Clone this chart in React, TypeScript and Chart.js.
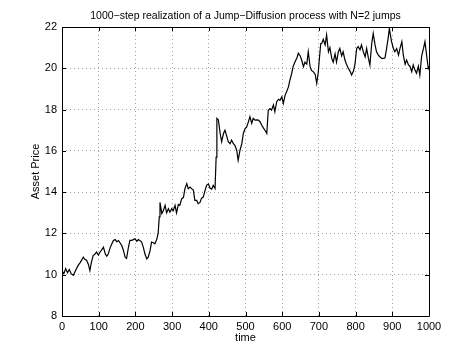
import React, { useEffect, useRef } from "react";
import { Chart, registerables } from "chart.js";

Chart.register(...registerables);

const TITLE = "1000\u2212step realization of a Jump\u2212Diffusion process with N=2 jumps";
const X_LABEL = "time";
const Y_LABEL = "Asset Price";
const X_TICKS = [0, 100, 200, 300, 400, 500, 600, 700, 800, 900, 1000];
const Y_TICKS = [8, 10, 12, 14, 16, 18, 20, 22];

const times = [
  0, 5, 10, 15, 20, 25, 31, 37, 44, 50, 58, 62, 67, 72, 76, 80, 85, 90, 94, 99,
  104, 108, 113, 118, 122, 126, 131, 136, 140, 145, 149, 154, 158, 163, 167, 172, 176, 181, 185, 190,
  194, 199, 204, 208, 213, 217, 222, 226, 231, 235, 240, 244, 249, 253, 258, 262, 265, 267, 272, 276,
  281, 285, 290, 294, 299, 303, 308, 312, 317, 321, 326, 331, 335, 340, 344, 349, 353, 358, 362, 367,
  371, 376, 380, 385, 390, 394, 399, 403, 408, 412, 417, 420, 422, 426, 431, 435, 440, 444, 449, 453,
  458, 462, 467, 471, 476, 480, 485, 490, 494, 499, 503, 508, 512, 517, 521, 526, 530, 535, 540, 544,
  549, 553, 558, 562, 567, 571, 576, 580, 585, 590, 594, 599, 603, 608, 612, 617, 621, 626, 630, 635,
  640, 644, 649, 653, 658, 662, 667, 671, 676, 680, 685, 690, 694, 698, 701, 705, 708, 712, 717, 721,
  726, 730, 735, 739, 744, 748, 753, 757, 762, 766, 771, 775, 780, 785, 789, 794, 798, 803, 807, 812,
  816, 821, 826, 830, 835, 839, 844, 848, 853, 857, 862, 866, 871, 875, 880, 884, 889, 892, 895, 898,
  903, 907, 912, 917, 921, 926, 930, 935, 939, 944, 948, 953, 957, 962, 966, 971, 975, 980, 985, 989,
  994, 998, 1000,
];

const prices = [
  10.2, 10.05, 10.3, 10.1, 10.25, 10.05, 9.97, 10.2, 10.45, 10.6, 10.85, 10.75, 10.7, 10.5, 10.2, 10.6, 10.93, 11.0, 11.1, 10.95,
  11.1, 11.2, 11.33, 11.0, 10.9, 11.0, 11.3, 11.5, 11.66, 11.7, 11.6, 11.65, 11.55, 11.4, 11.2, 10.85, 10.79, 11.33, 11.66, 11.66,
  11.7, 11.74, 11.62, 11.7, 11.65, 11.58, 11.3, 11.0, 10.77, 10.85, 11.17, 11.58, 11.55, 11.5, 11.7, 12.0, 12.8, 13.5, 12.96, 13.1,
  13.36, 13.0, 13.2, 13.03, 13.2, 13.1, 13.36, 13.0, 13.4, 13.36, 13.68, 13.75, 14.17, 14.41, 14.17, 14.25, 14.17, 14.1, 13.6, 13.6,
  13.44, 13.5, 13.7, 13.76, 14.1, 14.33, 14.4, 14.2, 14.15, 14.33, 14.17, 15.7, 17.57, 17.5, 16.84, 16.44, 16.84, 17.0, 16.7, 16.44,
  16.35, 16.52, 16.35, 16.27, 16.03, 15.54, 16.03, 16.35, 16.84, 17.08, 17.15, 17.41, 17.65, 17.33, 17.57, 17.49, 17.5, 17.49, 17.4, 17.25,
  17.1, 17.0, 16.84, 17.97, 18.05, 17.97, 18.22, 17.9, 18.38, 18.5, 18.45, 18.62, 18.3, 18.7, 18.86, 19.1, 19.43, 19.76, 20.1, 20.32,
  20.5, 20.73, 20.6, 20.4, 20.08, 20.3, 20.2, 20.8, 20.08, 19.9, 19.83, 19.7, 19.27, 19.76, 20.4, 21.2, 21.21, 21.4, 21.13, 21.61,
  20.8, 21.0, 20.48, 20.3, 20.7, 20.3, 20.8, 20.96, 20.6, 20.8, 20.4, 20.2, 20.0, 19.85, 19.67, 19.85, 20.16, 20.96, 21.05, 20.9,
  21.13, 20.8, 20.55, 20.96, 20.48, 20.16, 21.21, 21.69, 21.13, 20.8, 20.64, 20.56, 20.48, 20.48, 20.5, 20.9, 21.5, 21.94, 21.6, 21.29,
  20.96, 20.8, 20.96, 20.64, 20.96, 21.29, 20.64, 20.2, 20.4, 20.16, 20.1, 19.83, 20.16, 19.9, 19.76, 20.1, 19.67, 20.6, 20.96, 21.29,
  20.56, 20.0, 20.1,
];

const FONT = "'Liberation Sans', Arial, Helvetica, sans-serif";

const boxPlugin = {
  id: "matlabBox",
  afterDraw(chart: any) {
    const { ctx, chartArea } = chart;
    const { left, right, top, bottom } = chartArea;
    const xs = chart.scales.x;
    const ys = chart.scales.y;
    ctx.save();
    ctx.strokeStyle = "#000";
    ctx.lineWidth = 1;
    ctx.beginPath();
    ctx.rect(Math.round(left) + 0.5, Math.round(top) + 0.5, Math.round(right - left), Math.round(bottom - top));
    ctx.stroke();
    const tl = 4;
    ctx.beginPath();
    X_TICKS.forEach((v) => {
      const px = Math.round(xs.getPixelForValue(v)) + 0.5;
      ctx.moveTo(px, bottom);
      ctx.lineTo(px, bottom - tl);
      ctx.moveTo(px, top);
      ctx.lineTo(px, top + tl);
    });
    Y_TICKS.forEach((v) => {
      const py = Math.round(ys.getPixelForValue(v)) + 0.5;
      ctx.moveTo(left, py);
      ctx.lineTo(left + tl, py);
      ctx.moveTo(right, py);
      ctx.lineTo(right - tl, py);
    });
    ctx.stroke();
    ctx.fillStyle = "#000";
    ctx.font = `10.5px ${FONT}`;
    ctx.textAlign = "center";
    ctx.textBaseline = "middle";
    ctx.fillText(TITLE, (left + right) / 2, 16);
    ctx.font = `11px ${FONT}`;
    ctx.fillText(X_LABEL, (left + right) / 2, 338);
    ctx.translate(36, (top + bottom) / 2);
    ctx.rotate(-Math.PI / 2);
    ctx.fillText(Y_LABEL, 0, 0);
    ctx.restore();
  },
};

export default function App() {
  const ref = useRef<HTMLCanvasElement | null>(null);
  useEffect(() => {
    document.body.style.margin = "0";
    const canvas = ref.current!;
    const data = times.map((t, i) => ({ x: t, y: prices[i] }));
    const chart = new Chart(canvas, {
      type: "line",
      data: {
        datasets: [
          {
            data,
            borderColor: "#000",
            borderWidth: 1.2,
            pointRadius: 0,
            tension: 0,
            fill: false,
          },
        ],
      },
      options: {
        animation: false,
        responsive: false,
        devicePixelRatio: 1,
        layout: { padding: { top: 27, right: 45, left: 0, bottom: 0 } },
        plugins: { legend: { display: false }, title: { display: false }, tooltip: { enabled: false } },
        scales: {
          x: {
            type: "linear",
            min: 0,
            max: 1000,
            afterBuildTicks: (s: any) => {
              s.ticks = X_TICKS.map((v) => ({ value: v }));
            },
            afterFit: (s: any) => {
              s.height = 40;
            },
            grid: { color: "#a0a0a0", drawTicks: false, lineWidth: 1 },
            border: { display: false, dash: [1, 3] },
            ticks: {
              color: "#000",
              font: { family: FONT, size: 11 },
              padding: 4,
              maxRotation: 0,
              autoSkip: false,
              callback: (v: any) => String(v),
            },
          },
          y: {
            type: "linear",
            min: 8,
            max: 22,
            afterBuildTicks: (s: any) => {
              s.ticks = Y_TICKS.map((v) => ({ value: v }));
            },
            afterFit: (s: any) => {
              s.width = 62;
            },
            grid: { color: "#a0a0a0", drawTicks: false, lineWidth: 1 },
            border: { display: false, dash: [1, 3] },
            ticks: {
              color: "#000",
              font: { family: FONT, size: 11 },
              padding: 5,
              autoSkip: false,
              callback: (v: any) => String(v),
            },
          },
        },
      },
      plugins: [boxPlugin],
    });
    return () => chart.destroy();
  }, []);
  return (
    <div style={{ position: "fixed", left: 0, top: 0, width: 474, height: 356, background: "#fff" }}>
      <canvas ref={ref} width={474} height={356} style={{ width: 474, height: 356 }} />
    </div>
  );
}
